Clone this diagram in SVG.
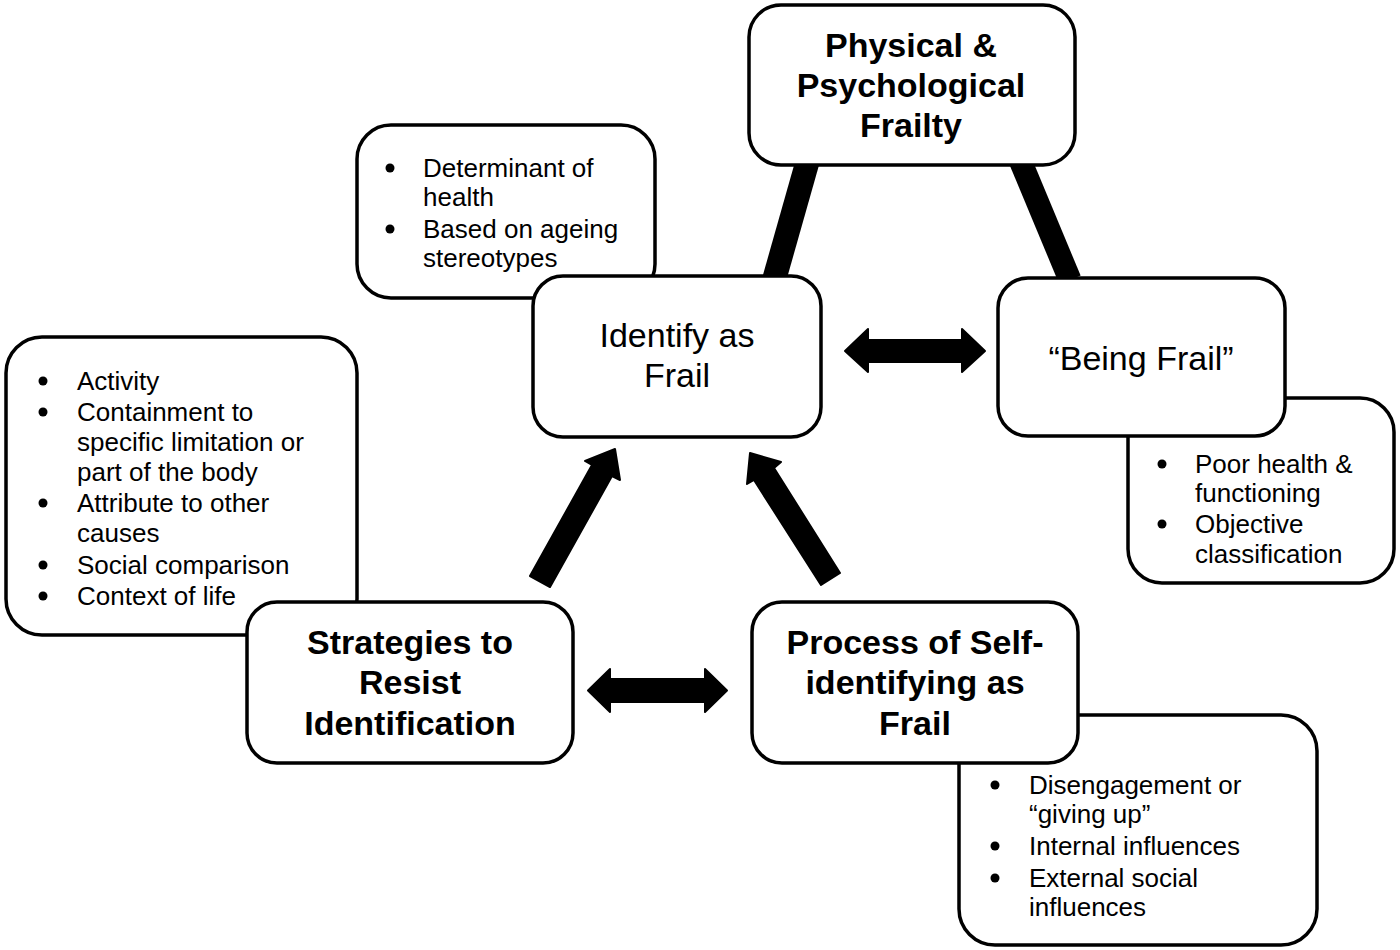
<svg xmlns="http://www.w3.org/2000/svg" width="1400" height="950" viewBox="0 0 1400 950">
<style>
.box{fill:#fff;stroke:#000;stroke-width:3.5}
.t{font-family:"Liberation Sans",Arial,sans-serif;fill:#000}
.main{font-size:34px;font-weight:bold;text-anchor:middle}
.reg{font-size:34px;text-anchor:middle}
.li{font-size:26px}
.dot{fill:#000}
.arr{fill:#000;stroke:#000;stroke-width:2;stroke-linejoin:round}
.bar{stroke:#000;fill:none}
</style>
<rect width="1400" height="950" fill="#fff"/>

<g id="connectors">
<line class="bar" x1="808" y1="160" x2="774" y2="280" stroke-width="24"/>
<line class="bar" x1="1020" y1="160" x2="1070" y2="280" stroke-width="23"/>
</g>

<g id="bullets-identify">
<rect class="box" x="357" y="125" width="298" height="173" rx="34"/>
<circle class="dot" cx="390" cy="168" r="4.5"/>
<circle class="dot" cx="390" cy="229" r="4.5"/>
<text class="t li" x="423" y="177">Determinant of</text>
<text class="t li" x="423" y="206">health</text>
<text class="t li" x="423" y="238">Based on ageing</text>
<text class="t li" x="423" y="267">stereotypes</text>
</g>

<g id="bullets-strategies">
<rect class="box" x="6" y="337" width="351" height="298" rx="36"/>
<circle class="dot" cx="43" cy="381" r="4.5"/>
<circle class="dot" cx="43" cy="412" r="4.5"/>
<circle class="dot" cx="43" cy="503" r="4.5"/>
<circle class="dot" cx="43" cy="565" r="4.5"/>
<circle class="dot" cx="43" cy="596" r="4.5"/>
<text class="t li" x="77" y="390">Activity</text>
<text class="t li" x="77" y="421">Containment to</text>
<text class="t li" x="77" y="451">specific limitation or</text>
<text class="t li" x="77" y="481">part of the body</text>
<text class="t li" x="77" y="512">Attribute to other</text>
<text class="t li" x="77" y="542">causes</text>
<text class="t li" x="77" y="574">Social comparison</text>
<text class="t li" x="77" y="605">Context of life</text>
</g>

<g id="bullets-being">
<rect class="box" x="1128" y="398" width="266" height="185" rx="34"/>
<circle class="dot" cx="1162" cy="464" r="4.5"/>
<circle class="dot" cx="1162" cy="524" r="4.5"/>
<text class="t li" x="1195" y="473">Poor health &amp;</text>
<text class="t li" x="1195" y="502">functioning</text>
<text class="t li" x="1195" y="533">Objective</text>
<text class="t li" x="1195" y="563">classification</text>
</g>

<g id="bullets-process">
<rect class="box" x="959" y="715" width="358" height="230" rx="36"/>
<circle class="dot" cx="995" cy="785" r="4.5"/>
<circle class="dot" cx="995" cy="846" r="4.5"/>
<circle class="dot" cx="995" cy="878" r="4.5"/>
<text class="t li" x="1029" y="794">Disengagement or</text>
<text class="t li" x="1029" y="823">“giving up”</text>
<text class="t li" x="1029" y="855">Internal influences</text>
<text class="t li" x="1029" y="887">External social</text>
<text class="t li" x="1029" y="916">influences</text>
</g>

<g id="node-physical">
<rect class="box" x="749" y="5" width="326" height="160" rx="32"/>
<text class="t main" x="911" y="57">Physical &amp;</text>
<text class="t main" x="911" y="97">Psychological</text>
<text class="t main" x="911" y="137">Frailty</text>
</g>

<g id="node-identify">
<rect class="box" x="533" y="276" width="288" height="161" rx="30"/>
<text class="t reg" x="677" y="347">Identify as</text>
<text class="t reg" x="677" y="387">Frail</text>
</g>

<g id="node-being">
<rect class="box" x="998" y="278" width="287" height="158" rx="30"/>
<text class="t reg" x="1141" y="370">“Being Frail”</text>
</g>

<g id="node-strategies">
<rect class="box" x="247" y="602" width="326" height="161" rx="30"/>
<text class="t main" x="410" y="654">Strategies to</text>
<text class="t main" x="410" y="694">Resist</text>
<text class="t main" x="410" y="735">Identification</text>
</g>

<g id="node-process">
<rect class="box" x="752" y="602" width="326" height="161" rx="30"/>
<text class="t main" x="915" y="654">Process of Self-</text>
<text class="t main" x="915" y="694">identifying as</text>
<text class="t main" x="915" y="735">Frail</text>
</g>

<g id="arrows">
<polygon class="arr" points="615,449 620,480 612,476 550,587 530,576 592,465 585,461"/>
<polygon class="arr" points="750,453 781,462 774,468 840,573 821,585 754,480 747,484"/>
<polygon class="arr" points="588,690.5 610,669 610,679 705,679 705,669 727,690.5 705,712 705,702 610,702 610,712"/>
<polygon class="arr" points="845,351 868,329 868,340 962,340 962,329 985,351 962,372 962,362 868,362 868,372"/>
</g>
</svg>
